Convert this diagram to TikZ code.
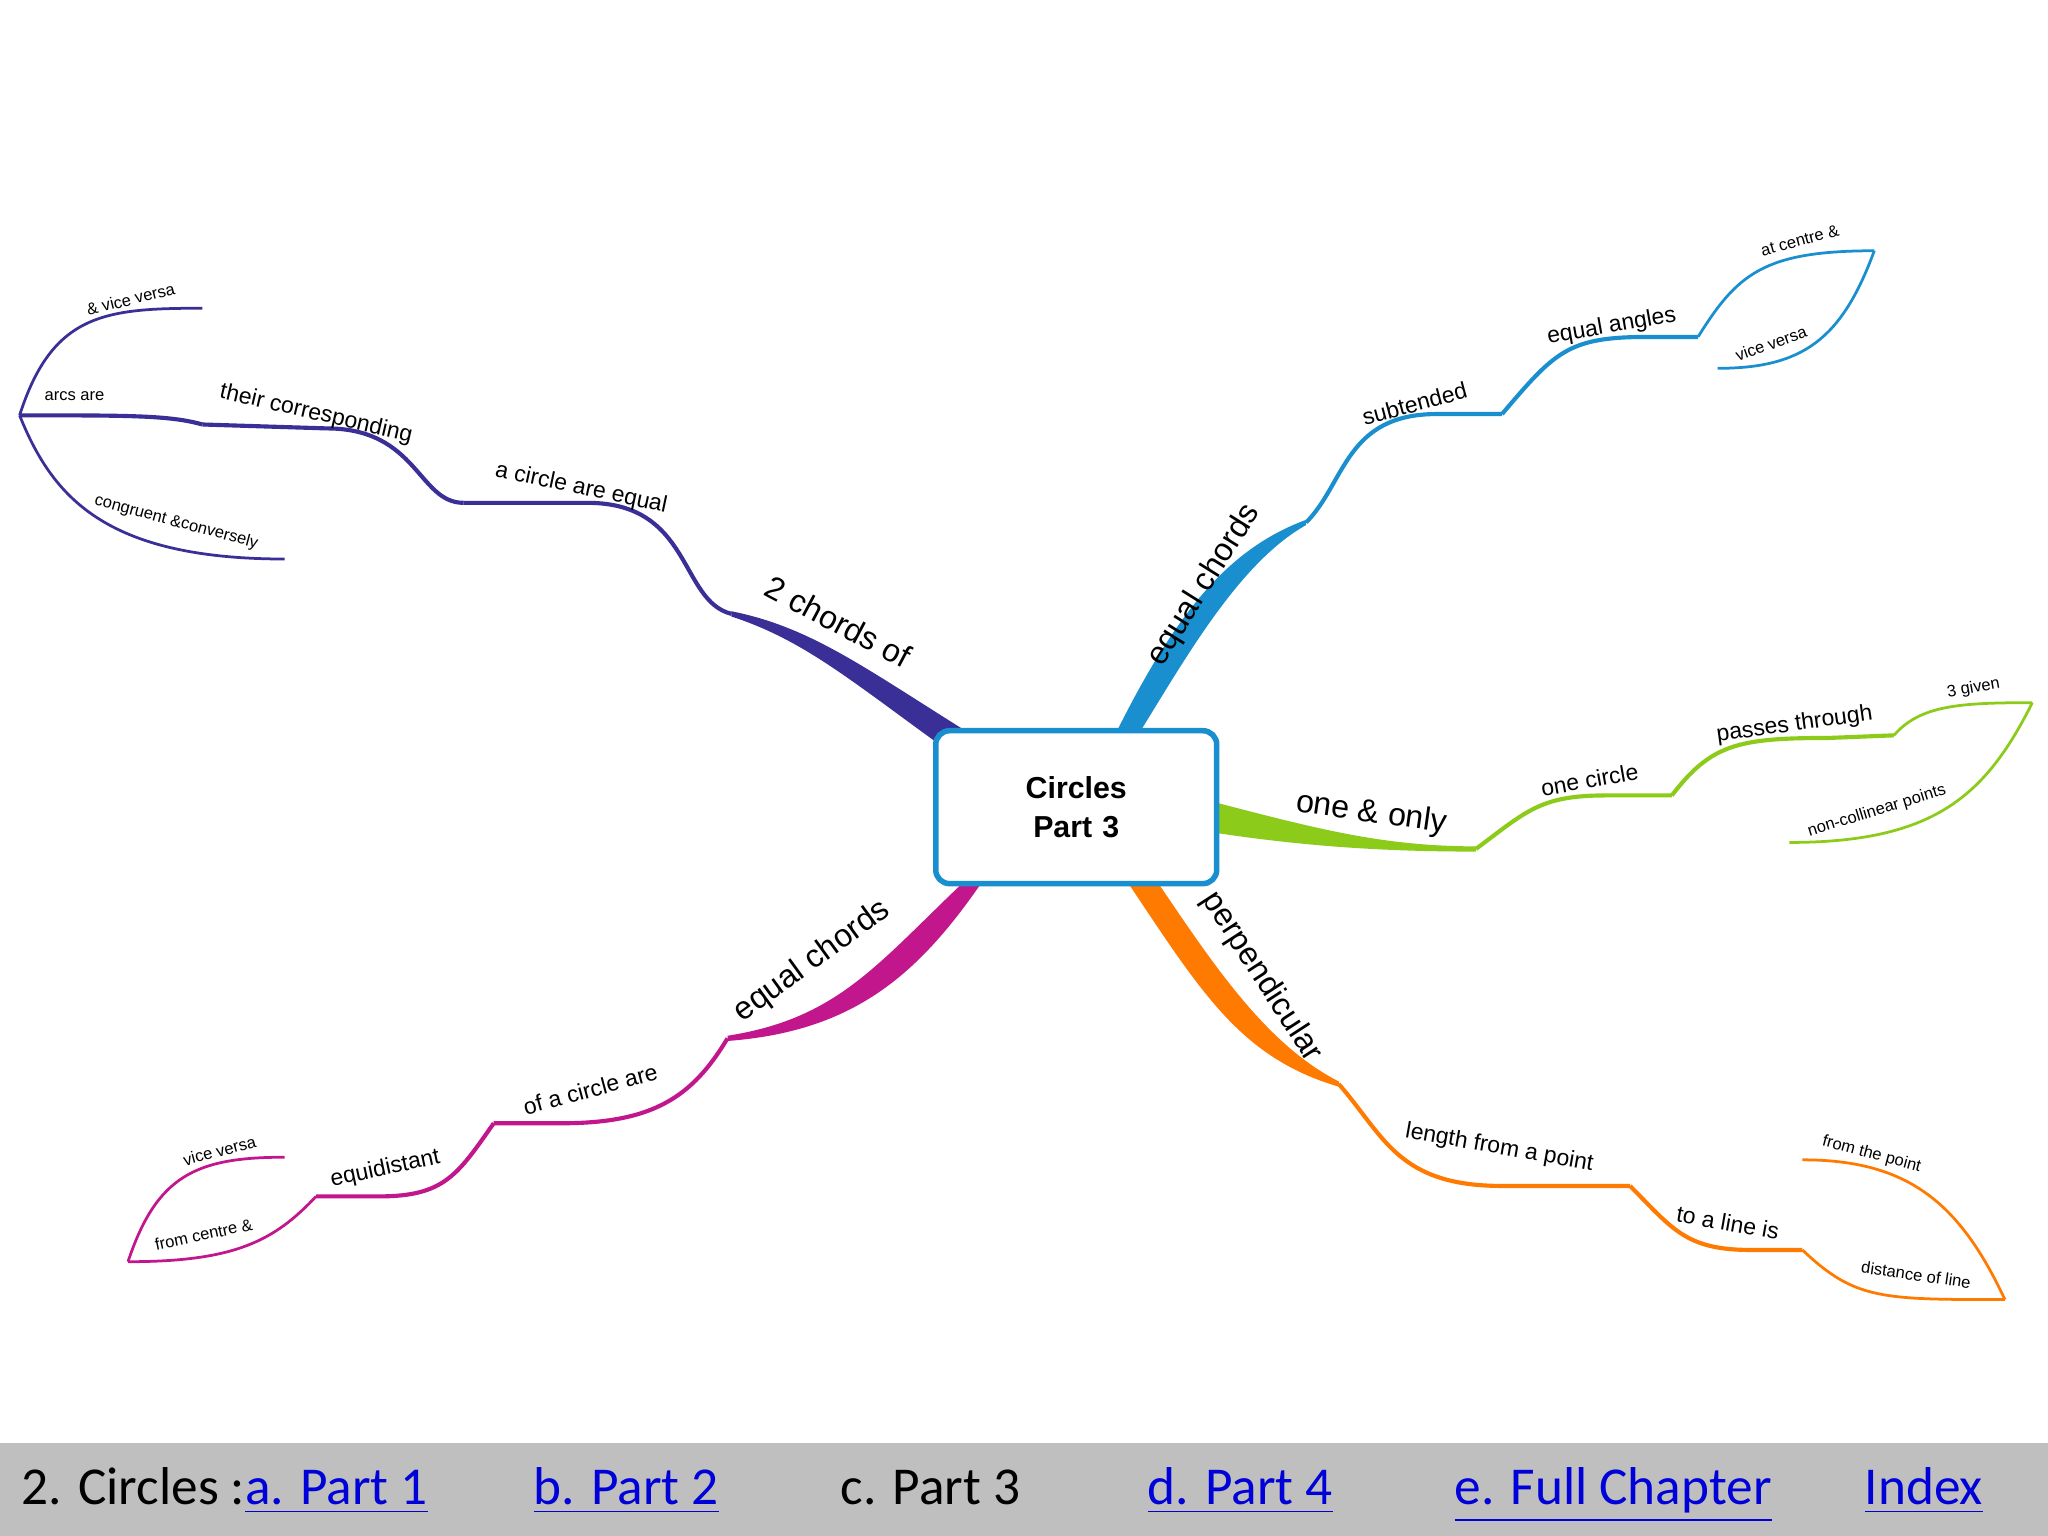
\documentclass[tikz,border=0pt]{standalone}
\usepackage{fontspec}
\setmainfont{Liberation Sans}
\newfontfamily\carlitofont{Carlito}
\begin{document}
\begin{tikzpicture}[x=0.01cm,y=-0.01cm,
 lab/.style={font=\fontsize{5}{6}\selectfont,inner sep=0pt},
 big/.style={font=\fontsize{7}{8}\selectfont,inner sep=0pt},
 sml/.style={font=\fontsize{3.6}{4}\selectfont,inner sep=0pt},
 mid/.style={line width=0.9pt},
 leaf/.style={line width=0.6pt},
 bar/.style={font=\carlitofont\fontsize{11.6}{14}\selectfont,anchor=base west,inner sep=0pt},
 lnk/.style={bar,text=blue!85!black}]
\definecolor{cdb}{HTML}{3A2F96}\definecolor{clb}{HTML}{1A8FD0}\definecolor{cgr}{HTML}{8CCB1A}
\definecolor{cor}{HTML}{FF7A00}\definecolor{cmg}{HTML}{C2168C}\definecolor{cbar}{HTML}{BFBFBF}
\useasboundingbox (0,0) rectangle (1568,1176);
\fill[white] (0,0) rectangle (1568,1176);
\fill[cbar] (0,1105) rectangle (1568,1176);
% ---- dark blue
\coordinate (d0) at (560,470);\coordinate (d1) at (355,385);\coordinate (d2) at (155,325);\coordinate (d3) at (15,318);
\coordinate (d4) at (155,236);\coordinate (d5) at (218,428);
\fill[cdb] (740,560) .. controls (660,510) and (620,480) .. (560,468) -- (560,472) .. controls (615,490) and (650,520) .. (722,572) -- cycle;
\draw[cdb,mid] (d0) .. controls (520,460) and (530,385) .. (450,385) -- (d1);
\draw[cdb,mid] (d1) .. controls (320,385) and (320,328) .. (250,328) -- (d2);
\draw[cdb,mid] (d2) .. controls (130,318) and (100,318) .. (d3);
\draw[cdb,leaf] (d3) .. controls (40,240) and (80,236) .. (d4);
\draw[cdb,leaf] (d3) .. controls (40,380) and (80,428) .. (d5);
\node[big,rotate=-28] at (642,476) {2 chords of};
\node[lab,rotate=-12] at (445,374) {a circle are equal};
\node[lab,rotate=-13] at (242,317) {their corresponding};
\node[sml] at (57,303) {arcs are};
\node[sml,rotate=14] at (100,229) {\& vice versa};
\node[sml,rotate=-15] at (135,400) {congruent \&conversely};
% ---- light blue
\coordinate (b0) at (1000,400);\coordinate (b1) at (1150,317);\coordinate (b2) at (1300,258);\coordinate (b3) at (1435,192);\coordinate (b4) at (1315,282);
\fill[clb] (855,560) .. controls (900,470) and (940,420) .. (1000,398) -- (1000,402) .. controls (950,430) and (910,500) .. (873,560) -- cycle;
\draw[clb,mid] (b0) .. controls (1030,370) and (1030,317) .. (1100,317) -- (b1);
\draw[clb,mid] (b1) .. controls (1190,270) and (1200,258) .. (1260,258) -- (b2);
\draw[clb,leaf] (b2) .. controls (1330,210) and (1350,192) .. (b3);
\draw[clb,leaf] (b3) .. controls (1410,260) and (1380,282) .. (b4);
\node[big,rotate=58] at (922,448) {equal chords};
\node[lab,rotate=15] at (1083,309) {subtended};
\node[lab,rotate=10] at (1234,250) {equal angles};
\node[sml,rotate=15] at (1378,184) {at centre \&};
\node[sml,rotate=20] at (1356,263) {vice versa};
% ---- green
\coordinate (g0) at (1130,650);\coordinate (g1) at (1280,609);\coordinate (g2) at (1450,563);\coordinate (g3) at (1556,538);\coordinate (g4) at (1370,645);
\fill[cgr] (933,615) .. controls (1010,635) and (1060,648) .. (1130,648) -- (1130,652) .. controls (1060,652) and (1000,648) .. (933,638) -- cycle;
\draw[cgr,mid] (g0) .. controls (1170,620) and (1180,609) .. (1230,609) -- (g1);
\draw[cgr,mid] (g1) .. controls (1310,570) and (1330,565) .. (1400,565) -- (g2);
\draw[cgr,leaf] (g2) .. controls (1470,540) and (1500,538) .. (g3);
\draw[cgr,leaf] (g3) .. controls (1520,610) and (1480,645) .. (g4);
\node[big,rotate=-8] at (1050,623) {one \& only};
\node[lab,rotate=10] at (1217,597) {one circle};
\node[lab,rotate=8] at (1374,555) {passes through};
\node[sml,rotate=10] at (1511,527) {3 given};
\node[sml,rotate=17] at (1437,621) {non-collinear points};
% ---- orange
\coordinate (o0) at (1025,830);\coordinate (o1) at (1248,908);\coordinate (o2) at (1380,957);\coordinate (o3) at (1535,995);\coordinate (o4) at (1380,888);
\fill[cor] (865,678) .. controls (920,760) and (950,810) .. (1025,832) -- (1025,828) .. controls (970,800) and (930,740) .. (888,678) -- cycle;
\draw[cor,mid] (o0) .. controls (1060,870) and (1070,908) .. (1150,908) -- (o1);
\draw[cor,mid] (o1) .. controls (1280,940) and (1290,957) .. (1340,957) -- (o2);
\draw[cor,leaf] (o2) .. controls (1420,995) and (1440,995) .. (o3);
\draw[cor,leaf] (o3) .. controls (1500,920) and (1460,888) .. (o4);
\node[big,rotate=-57] at (966,748) {perpendicular};
\node[lab,rotate=-10] at (1148,879) {length from a point};
\node[lab,rotate=-10] at (1323,936) {to a line is};
\node[sml,rotate=-8] at (1467,976) {distance of line};
\node[sml,rotate=-15] at (1433,884) {from the point};
% ---- magenta
\coordinate (m0) at (557,795);\coordinate (m1) at (378,860);\coordinate (m2) at (242,916);\coordinate (m3) at (98,966);\coordinate (m4) at (218,886);
\fill[cmg] (735,678) .. controls (670,740) and (640,780) .. (557,793) -- (557,797) .. controls (650,790) and (700,750) .. (750,678) -- cycle;
\draw[cmg,mid] (m0) .. controls (530,840) and (500,860) .. (430,860) -- (m1);
\draw[cmg,mid] (m1) .. controls (350,900) and (340,916) .. (290,916) -- (m2);
\draw[cmg,leaf] (m2) .. controls (210,950) and (180,966) .. (m3);
\draw[cmg,leaf] (m3) .. controls (120,900) and (150,886) .. (m4);
\node[big,rotate=36] at (622,736) {equal chords};
\node[lab,rotate=15] at (452,834) {of a circle are};
\node[lab,rotate=12] at (295,895) {equidistant};
\node[sml,rotate=12] at (156,945) {from centre \&};
\node[sml,rotate=15] at (168,881) {vice versa};
% ---- center
\node[draw=clb,line width=1.2pt,rounded corners=3pt,fill=white,
 text width=1.9cm,minimum height=1.17cm,minimum width=2.15cm,align=center,font=\bfseries\fontsize{6.6}{8.5}\selectfont] (c) at (824,618) {Circles\\ Part 3};
% ---- bar
\node[bar] (t0) at (16,1152) {2. Circles :};
\node[lnk] (t1) at (187,1152) {\underline{a. Part 1}};
\node[lnk] (t2) at (408,1152) {\underline{b. Part 2}};
\node[bar] (t3) at (643,1152) {c. Part 3};
\node[lnk] (t4) at (878,1152) {\underline{d. Part 4}};
\node[lnk] (t5) at (1113,1152) {\underline{e. Full Chapter}};
\node[lnk] (t6) at (1427,1152) {\underline{Index}};
\end{tikzpicture}
\end{document}
